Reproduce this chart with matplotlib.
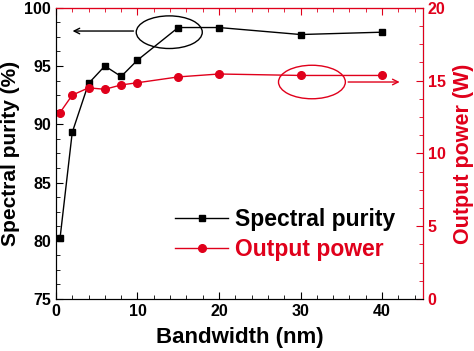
import matplotlib
matplotlib.use("Agg")
import matplotlib.pyplot as plt
from matplotlib.patches import Ellipse
from matplotlib.ticker import MultipleLocator

plt.rcParams['font.family'] = ['Liberation Sans', 'DejaVu Sans']
plt.rcParams['font.weight'] = 'bold'

bandwidth = [0.5, 2, 4, 6, 8, 10, 15, 20, 30, 40]
purity = [80.2, 89.3, 93.5, 95.0, 94.1, 95.5, 98.3, 98.3, 97.7, 97.9]
power = [12.8, 14.0, 14.5, 14.4, 14.7, 14.85, 15.25, 15.45, 15.35, 15.35]

RED = '#e0001b'

fig, ax = plt.subplots(figsize=(4.74, 3.51), dpi=100)
fig.subplots_adjust(left=0.118, right=0.892, top=0.978, bottom=0.148)
ax2 = ax.twinx()

l1, = ax.plot(bandwidth, purity, color='black', lw=1, marker='s', ms=4.5,
              label='Spectral purity')
l2, = ax2.plot(bandwidth, power, color=RED, lw=1, marker='o', ms=5.5,
               label='Output power')

ax.set_xlim(0, 45)
ax.set_ylim(75, 100)
ax2.set_ylim(0, 20)

ax.xaxis.set_major_locator(MultipleLocator(10))
ax.xaxis.set_minor_locator(MultipleLocator(2))
ax.yaxis.set_major_locator(MultipleLocator(5))
ax.yaxis.set_minor_locator(MultipleLocator(1.25))
ax2.yaxis.set_major_locator(MultipleLocator(5))
ax2.yaxis.set_minor_locator(MultipleLocator(1.25))

ax.tick_params(axis='both', which='both', direction='in', labelsize=11.5)
ax.tick_params(axis='x', top=False)
ax.tick_params(which='major', length=5)
ax.tick_params(which='minor', length=3)
ax2.tick_params(axis='y', which='both', direction='in', colors=RED, labelsize=11.5)
ax2.tick_params(which='major', length=5)
ax2.tick_params(which='minor', length=3)

# red top axis ticks via secondary axis
top = ax.secondary_xaxis('top')
top.xaxis.set_major_locator(MultipleLocator(10))
top.xaxis.set_minor_locator(MultipleLocator(2))
top.tick_params(axis='x', which='both', direction='in', colors=RED, labeltop=False)
top.tick_params(which='major', length=5)
top.tick_params(which='minor', length=3)
top.spines['top'].set_color(RED)

for a in (ax, ax2):
    a.spines['top'].set_color(RED)
ax2.spines['right'].set_color(RED)
ax2.spines['left'].set_color('black')
ax2.spines['bottom'].set_color('black')

ax.set_xlabel('Bandwidth (nm)', fontsize=16, fontweight='bold', labelpad=6)
ax.set_ylabel('Spectral purity (%)', fontsize=15, fontweight='bold', labelpad=3)
ax2.set_ylabel('Output power (W)', fontsize=15.5, fontweight='bold', color=RED, labelpad=5)

for lab in ax.get_xticklabels() + ax.get_yticklabels() + ax2.get_yticklabels():
    lab.set_fontweight('bold')

# annotations: ellipses with arrows
ax.add_patch(Ellipse((13.9, 97.9), 8.1, 2.8, fill=False, ec='black', lw=1))
ax.annotate('', xy=(1.7, 98.0), xytext=(9.85, 98.0),
            arrowprops=dict(arrowstyle='->', color='black', lw=1))
ax2.add_patch(Ellipse((31.4, 14.9), 8.2, 2.3, fill=False, ec=RED, lw=1))
ax2.annotate('', xy=(42.5, 14.9), xytext=(35.5, 14.9),
             arrowprops=dict(arrowstyle='->', color=RED, lw=1))

leg = ax.legend([l1, l2], ['Spectral purity', 'Output power'],
                loc='upper left', bbox_to_anchor=(0.3, 0.345), frameon=False,
                fontsize=16.5, handlelength=2.3, handletextpad=0.3,
                labelspacing=0.3, borderaxespad=0)
for t, c in zip(leg.get_texts(), ['black', RED]):
    t.set_color(c)
    t.set_fontweight('bold')

fig.savefig('out.png', dpi=100)
